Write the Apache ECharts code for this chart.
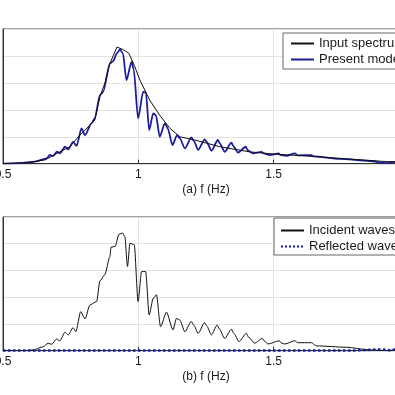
<!DOCTYPE html>
<html>
<head>
<meta charset="utf-8">
<script src="https://cdn.jsdelivr.net/npm/echarts@6/dist/echarts.min.js"></script>
<style>html,body{margin:0;padding:0;background:#fff}#c{width:395px;height:395px}</style>
</head>
<body>
<div id="c"></div>
<script>
// x tick labels
var xTicks = [0.5, 1, 1.5, 2];
var xTickLabels = ['0.5', '1', '1.5', '2'];
// (a) Input spectrum [f (Hz), S]
var inputSpectrum = [
[0.5,0],[0.6,0.05],[0.655,0.14],[0.71,0.44],[0.747,0.63],[0.784,1.06],[0.821,1.43],[0.839,1.62],
[0.858,2.48],[0.876,2.98],[0.895,3.72],[0.921,4.33],[0.943,4.24],[0.965,4.1],[0.987,3.6],[1.006,3.1],
[1.042,2.36],[1.079,1.8],[1.116,1.32],[1.153,1.0],[1.208,0.88],[1.301,0.63],[1.411,0.44],[1.5,0.36],
[1.596,0.3],[1.744,0.2],[1.928,0.07],[1.998,0.03]
];
// (a) Present model
var presentModel = [
[0.5,0],[0.563,0.02],[0.618,0.08],[0.662,0.2],[0.673,0.33],[0.685,0.28],[0.699,0.45],[0.71,0.38],
[0.729,0.63],[0.741,0.53],[0.759,0.81],[0.772,0.66],[0.79,1.31],[0.803,1.06],[0.827,1.5],[0.839,1.68],
[0.858,2.54],[0.87,2.67],[0.895,3.72],[0.907,3.81],[0.921,4.1],[0.932,4.24],[0.943,4.1],[0.956,3.1],
[0.975,3.78],[0.983,3.5],[0.999,1.68],[1.018,2.67],[1.028,2.63],[1.04,1.25],[1.055,1.87],[1.065,1.8],
[1.079,1.0],[1.098,1.5],[1.109,1.3],[1.126,0.69],[1.143,1.06],[1.153,0.95],[1.172,0.57],[1.196,0.98],
[1.205,0.85],[1.221,0.51],[1.245,0.9],[1.253,0.8],[1.27,0.48],[1.294,0.88],[1.301,0.75],[1.319,0.44],
[1.344,0.78],[1.351,0.65],[1.368,0.41],[1.397,0.63],[1.404,0.5],[1.423,0.38],[1.455,0.44],[1.463,0.38],
[1.485,0.32],[1.518,0.38],[1.526,0.32],[1.547,0.29],[1.578,0.38],[1.589,0.31],[1.639,0.32],[1.648,0.27],
[1.744,0.18],[1.854,0.1],[1.916,0.02],[1.935,0.07],[1.998,0.04]
];
// (b) Incident waves
var incidentWaves = [
[0.5,0],[0.581,0],[0.612,0.03],[0.649,0.15],[0.667,0.28],[0.68,0.24],[0.698,0.44],[0.71,0.37],
[0.729,0.69],[0.741,0.59],[0.759,0.86],[0.769,0.71],[0.787,1.46],[0.803,1.19],[0.821,1.71],[0.846,1.84],
[0.858,2.61],[0.876,2.84],[0.895,3.52],[0.899,3.87],[0.914,3.9],[0.929,4.36],[0.942,4.4],[0.95,4.27],
[0.96,3.15],[0.969,4.02],[0.985,3.96],[0.999,1.84],[1.012,2.96],[1.027,2.96],[1.04,1.34],[1.055,1.96],
[1.067,2.09],[1.082,0.9],[1.104,1.44],[1.128,0.78],[1.141,1.21],[1.153,1.15],[1.172,0.71],[1.196,1.09],
[1.205,0.95],[1.221,0.65],[1.245,1.05],[1.253,0.92],[1.27,0.59],[1.291,0.96],[1.299,0.82],[1.319,0.46],
[1.344,0.8],[1.352,0.66],[1.372,0.34],[1.399,0.65],[1.408,0.5],[1.43,0.28],[1.458,0.46],[1.467,0.35],
[1.479,0.25],[1.52,0.37],[1.53,0.28],[1.541,0.25],[1.578,0.37],[1.589,0.3],[1.639,0.3],[1.658,0.18],
[1.768,0.13],[1.854,0.03],[1.928,0],[1.946,0.05],[1.998,0.04]
];
// (b) Reflected waves
var reflectedWaves = [
[0.5,0.01],[0.8,0.01],[1.0,0.01],[1.2,0.01],[1.5,0.01],[1.8,0.01],[1.85,0.03],[1.9,0.05],[1.93,0.02],[1.95,0.05],[1.998,0.04]
];

var FONT = 'Liberation Sans, Arial, sans-serif';
var TXT = '#1a1a1a';
var BLUE = '#1c1c9c';

function xAxisCfg(idx, name) {
  return {
    gridIndex: idx, type: 'value', min: 0.5, max: 2, interval: 0.5,
    name: name, nameLocation: 'middle', nameGap: 20,
    nameTextStyle: {fontFamily: FONT, fontSize: 12, color: TXT},
    axisLine: {show: true, onZero: false, lineStyle: {color: '#333', width: 1}},
    axisTick: {show: true, inside: true, length: 4, lineStyle: {color: '#333'}},
    axisLabel: {show: true, margin: 5, fontFamily: FONT, fontSize: 12, color: TXT,
      showMinLabel: true, showMaxLabel: true,
      formatter: function (v) { var i = xTicks.indexOf(v); return i >= 0 ? xTickLabels[i] : ''; }},
    splitLine: {show: true, lineStyle: {color: '#e2e2e2', width: 1}}
  };
}
function yAxisCfg(idx) {
  return {
    gridIndex: idx, type: 'value', min: 0, max: 5, interval: 1,
    axisLine: {show: true, lineStyle: {color: '#333'}},
    axisTick: {show: false},
    axisLabel: {show: false},
    splitLine: {show: true, lineStyle: {color: '#e2e2e2', width: 1}}
  };
}
function legendCfg(left, top, padding, names) {
  return {
    orient: 'vertical', left: left, top: top, padding: padding, itemWidth: 23, itemHeight: 12, itemGap: 3,
    backgroundColor: '#fff', borderColor: '#666', borderWidth: 1, borderRadius: 0,
    itemStyle: {opacity: 0, borderWidth: 0},
    textStyle: {fontFamily: FONT, fontSize: 13, color: TXT},
    data: names
  };
}

var chart = echarts.init(document.getElementById('c'), null, {renderer: 'canvas'});
chart.setOption({
  animation: false,
  backgroundColor: '#fff',
  grid: [
    {left: 3, top: 29, width: 406, height: 134.7, containLabel: false, outerBoundsMode: 'none',
     show: true, borderColor: '#444', borderWidth: 1},
    {left: 3, top: 217, width: 406, height: 133.7, containLabel: false, outerBoundsMode: 'none',
     show: true, borderColor: '#444', borderWidth: 1}
  ],
  xAxis: [xAxisCfg(0, '(a) f (Hz)'), xAxisCfg(1, '(b) f (Hz)')],
  yAxis: [yAxisCfg(0), yAxisCfg(1)],
  legend: [
    legendCfg(283, 33, [4, 40, 3, 7], ['Input spectrum', 'Present model']),
    legendCfg(274, 218, [6, 40, 2, 6], ['Incident waves', 'Reflected waves'])
  ],
  series: [
    {name: 'Present model', type: 'line', xAxisIndex: 0, yAxisIndex: 0, data: presentModel,
     symbol: 'none', smooth: 0.25, smoothMonotone: 'x', lineStyle: {color: BLUE, width: 1.8}, itemStyle: {color: BLUE}, z: 2},
    {name: 'Input spectrum', type: 'line', xAxisIndex: 0, yAxisIndex: 0, data: inputSpectrum,
     symbol: 'none', lineStyle: {color: '#111', width: 1}, itemStyle: {color: '#111'}, z: 3},
    {name: 'Incident waves', type: 'line', xAxisIndex: 1, yAxisIndex: 1, data: incidentWaves,
     symbol: 'none', smooth: 0.25, smoothMonotone: 'x', lineStyle: {color: '#111', width: 1}, itemStyle: {color: '#111'}, z: 2},
    {name: 'Reflected waves', type: 'line', xAxisIndex: 1, yAxisIndex: 1, data: reflectedWaves,
     symbol: 'none', lineStyle: {color: BLUE, width: 2.5, type: 'dotted'}, itemStyle: {color: BLUE}, z: 3}
  ]
});
</script>
</body>
</html>
